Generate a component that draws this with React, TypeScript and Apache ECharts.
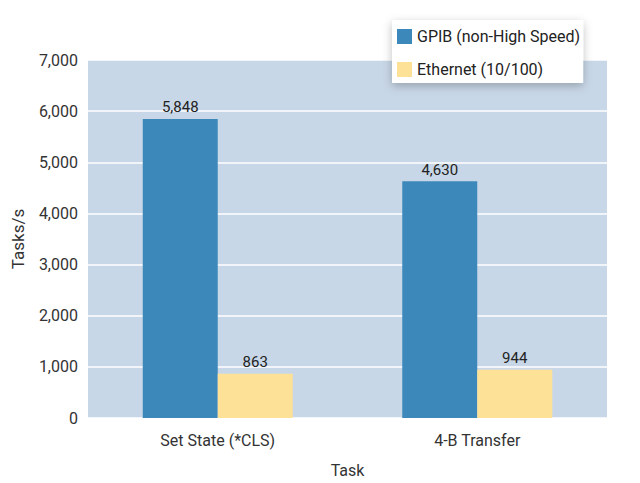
import React, { useEffect, useRef } from "react";
import * as echarts from "echarts";

const categories = ["Set State (*CLS)", "4-B Transfer"];
const gpibValues = [5848, 4630];
const ethernetValues = [863, 944];
const seriesNames = ["GPIB (non-High Speed)", "Ethernet (10/100)"];

const FONT = "Roboto, 'Liberation Sans', sans-serif";

export default function App() {
  const ref = useRef<HTMLDivElement>(null);

  useEffect(() => {
    if (!ref.current) return;
    const chart = echarts.init(ref.current, null, { renderer: "svg" });
    const valueLabel = {
      show: true,
      position: "top" as const,
      distance: 4,
      color: "#222",
      fontFamily: FONT,
      fontSize: 15,
      formatter: (p: any) => Number(p.value).toLocaleString("en-US"),
    };
    chart.setOption({
      animation: false,
      backgroundColor: "#ffffff",
      textStyle: { fontFamily: FONT },
      grid: { left: 88, right: 33, top: 60, bottom: 63, show: true, backgroundColor: "#c8d7e7", borderWidth: 0 },
      legend: {
        orient: "vertical",
        left: 392,
        top: 20,
        padding: [7, 3, 4, 5],
        itemWidth: 15,
        itemHeight: 15,
        itemGap: 14,
        backgroundColor: "#ffffff",
        shadowBlur: 10,
        shadowColor: "rgba(0,0,0,0.25)",
        shadowOffsetY: 3,
        textStyle: { fontFamily: FONT, fontSize: 16, color: "#222", lineHeight: 19 },
        data: seriesNames.map((n) => ({ name: n, icon: "rect" })),
      },
      xAxis: {
        type: "category",
        data: categories,
        name: "Task",
        nameLocation: "middle",
        nameGap: 44,
        nameTextStyle: { fontFamily: FONT, fontSize: 16, color: "#333" },
        axisLine: { show: false },
        axisTick: { show: false },
        axisLabel: { fontFamily: FONT, fontSize: 16, color: "#333", margin: 14 },
      },
      yAxis: {
        type: "value",
        min: 0,
        max: 7000,
        interval: 1000,
        name: "Tasks/s",
        nameLocation: "middle",
        nameGap: 62,
        nameTextStyle: { fontFamily: FONT, fontSize: 17, color: "#333" },
        axisLine: { show: false },
        axisTick: { show: false },
        axisLabel: {
          fontFamily: FONT,
          fontSize: 16,
          color: "#333",
          margin: 10,
          formatter: (v: number) => v.toLocaleString("en-US"),
        },
        splitLine: { lineStyle: { color: "#ffffff", width: 1.5 } },
      },
      series: [
        {
          name: seriesNames[0],
          type: "bar",
          data: gpibValues,
          barWidth: 75,
          barGap: "0%",
          itemStyle: { color: "#3d88bb" },
          label: valueLabel,
        },
        {
          name: seriesNames[1],
          type: "bar",
          data: ethernetValues,
          barWidth: 75,
          barGap: "0%",
          itemStyle: { color: "#fde196" },
          label: valueLabel,
        },
      ],
    });
    return () => chart.dispose();
  }, []);

  return <div ref={ref} style={{ position: "fixed", left: 0, top: 0, width: 640, height: 483 }} />;
}
